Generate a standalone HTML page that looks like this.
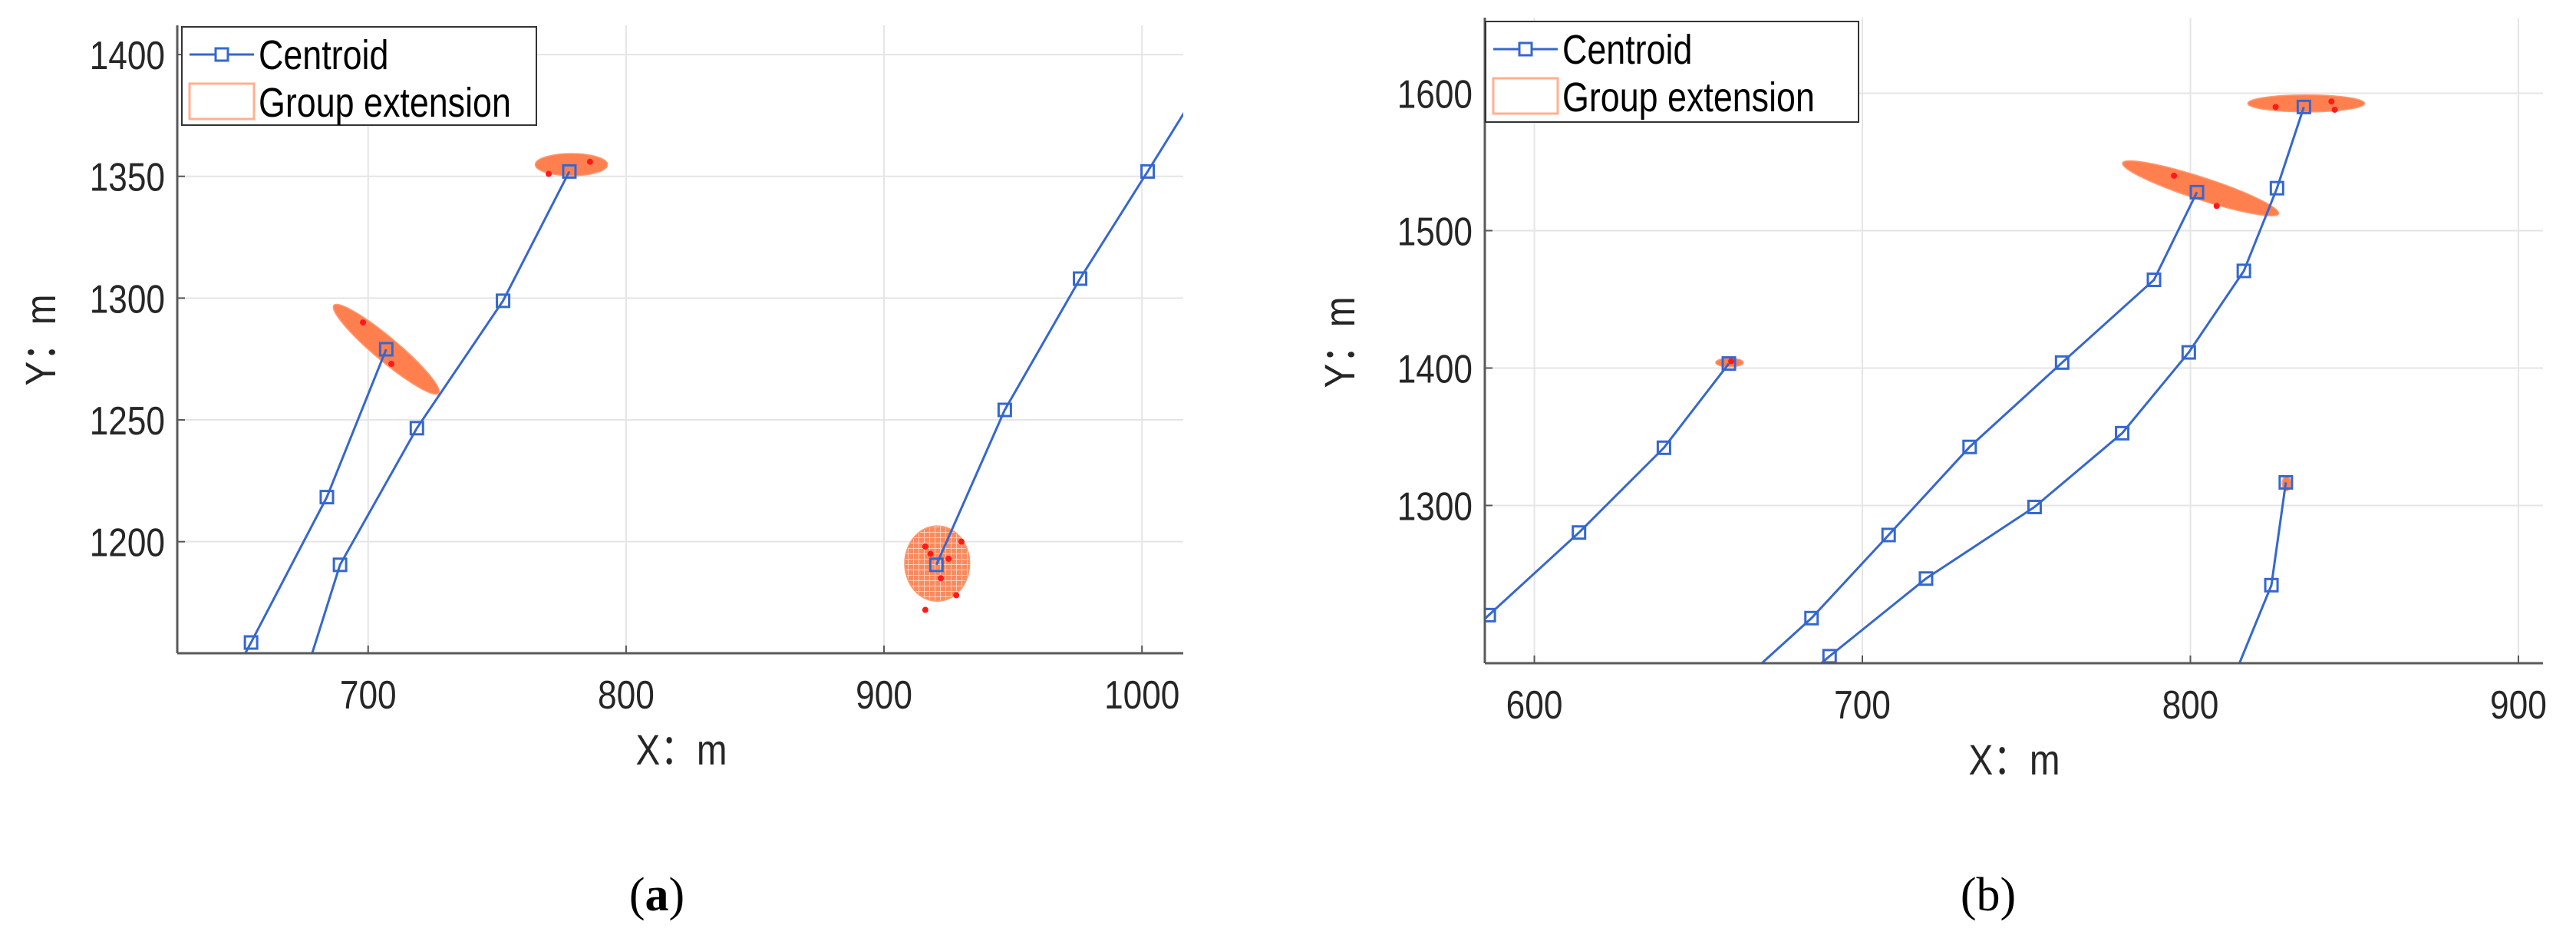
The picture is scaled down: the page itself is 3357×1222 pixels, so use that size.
<!DOCTYPE html>
<html><head><meta charset="utf-8">
<style>
html,body{margin:0;padding:0;background:#fff;}
svg{display:block;font-family:"Liberation Sans",sans-serif;}
</style></head>
<body>
<svg id="fig" width="3357" height="1222" viewBox="0 0 3357 1222" xmlns="http://www.w3.org/2000/svg">
<defs>
<pattern id="mesh" width="7" height="7" patternUnits="userSpaceOnUse">
<rect width="7" height="7" fill="#f98a5e"/>
<path d="M0 0H7M0 0V7" stroke="#fde0d2" stroke-width="1.5"/>
</pattern>
<clipPath id="clipA"><rect x="231" y="33" width="1311" height="818"/></clipPath>
<clipPath id="clipB"><rect x="1935" y="23" width="1379" height="841"/></clipPath>
</defs>
<g id="panelA"></g>
<g id="panelB"></g>
<text x="856" y="1186" font-family="Liberation Serif, serif" font-size="62" text-anchor="middle">(<tspan font-weight="bold">a</tspan>)</text>
<text x="2591" y="1186" font-family="Liberation Serif, serif" font-size="62" text-anchor="middle">(b)</text>
</svg>
<script>
// ---- Panel (a) data ----
const aXTicks = [700, 800, 900, 1000];
const aYTicks = [1200, 1250, 1300, 1350, 1400];
const aTrack1X = [625, 654.6, 684, 707];
const aTrack1Y = [1100, 1158.6, 1218.3, 1279];
const aTrack2X = [672, 689.1, 718.9, 752.3, 778];
const aTrack2Y = [1133, 1190.5, 1246.6, 1298.9, 1352];
const aTrack3X = [920.3, 946.8, 976, 1002.2, 1028];
const aTrack3Y = [1190.5, 1254.1, 1308, 1352, 1396];
const aEllX = [707, 778.8, 920.6];
const aEllY = [1279, 1354.8, 1191];
const aEllRx = [26.5, 14, 12.6];
const aEllRy = [4.6, 4.3, 14.6];
const aEllAng = [40, 0, 0];
const aDotX = [698, 709, 770, 786, 916, 918, 925, 930, 922, 916, 928];
const aDotY = [1290, 1273, 1351, 1356, 1198, 1195, 1193, 1200, 1185, 1172, 1178];

// ---- Panel (b) data ----
const bXTicks = [600, 700, 800, 900];
const bYTicks = [1300, 1400, 1500, 1600];
const bTrack1X = [560, 586.1, 613.6, 639.5, 659.3];
const bTrack1Y = [1160, 1220.2, 1280.3, 1342, 1403.3];
const bTrack2X = [660, 684.5, 708, 732.7, 760.9, 788.9, 802];
const bTrack2Y = [1165, 1218, 1278.5, 1342.6, 1404, 1464.2, 1528];
const bTrack3X = [680, 690, 719.4, 752.5, 779.2, 799.5, 816.3, 826.4, 834.6];
const bTrack3Y = [1170, 1190.3, 1246.8, 1298.9, 1352.6, 1411.4, 1470.7, 1530.9, 1590];
const bTrack4X = [812, 824.7, 829.1];
const bTrack4Y = [1168, 1242, 1316.8];
const bEllX = [659.5, 803.1, 835.3, 829.3];
const bEllY = [1404, 1530.8, 1592.6, 1316];
const bEllRx = [4.2, 25, 17.8, 1.3];
const bEllRy = [1.3, 3.4, 2.6, 2.2];
const bEllAng = [0, 18, 0, 0];
const bDotX = [660, 795, 808, 843, 844, 826];
const bDotY = [1405, 1540, 1518, 1594, 1588, 1590];

const NS = 'http://www.w3.org/2000/svg';
function mk(parent, tag, attrs) {
  const e = document.createElementNS(NS, tag);
  for (const k in attrs) e.setAttribute(k, attrs[k]);
  parent.appendChild(e);
  return e;
}
function narrow(t, f) {
  const len = t.getComputedTextLength();
  if (len > 0) {
    t.setAttribute('textLength', (len * f).toFixed(1));
    t.setAttribute('lengthAdjust', 'spacingAndGlyphs');
  }
}

function drawPanel(g, cfg) {
  const sx = v => cfg.px0 + (v - cfg.x0) * (cfg.px1 - cfg.px0) / (cfg.x1 - cfg.x0);
  const sy = v => cfg.py0 - (v - cfg.y0) * (cfg.py0 - cfg.py1) / (cfg.y1 - cfg.y0);
  const kx = (cfg.px1 - cfg.px0) / (cfg.x1 - cfg.x0);
  cfg.xTicks.forEach(t => {
    const l = mk(g, 'line', {x1: sx(t), x2: sx(t), y1: cfg.py1, y2: cfg.py0, stroke: '#e5e5e5', 'stroke-width': 2});
    
    
    const tk = mk(g, 'line', {x1: sx(t), x2: sx(t), y1: cfg.py0, y2: cfg.py0 - 10, stroke: '#555', 'stroke-width': 2});
    
    
    const tx = mk(g, 'text', {x: sx(t), y: cfg.py0 + 72, 'font-size': 52, 'text-anchor': 'middle', fill: '#262626'});
    tx.textContent = t;
    
    
    narrow(tx, 0.85);
  });
  cfg.yTicks.forEach(t => {
    const l = mk(g, 'line', {x1: cfg.px0, x2: cfg.px1, y1: sy(t), y2: sy(t), stroke: '#e5e5e5', 'stroke-width': 2});
    
    
    const tk = mk(g, 'line', {x1: cfg.px0, x2: cfg.px0 + 10, y1: sy(t), y2: sy(t), stroke: '#555', 'stroke-width': 2});
    
    
    const tx = mk(g, 'text', {x: cfg.px0 - 16, y: sy(t) + 19, 'font-size': 52, 'text-anchor': 'end', fill: '#262626'});
    tx.textContent = t;
    
    
    narrow(tx, 0.85);
  });
  const plot = mk(g, 'g', {'clip-path': cfg.clip});
  
  
  cfg.ellX.forEach((v, i) => {
    const e = mk(plot, 'ellipse', {cx: sx(v), cy: sy(cfg.ellY[i]), rx: cfg.ellRx[i] * kx, ry: cfg.ellRy[i] * kx,
      fill: (cfg.meshIdx === i ? 'url(#mesh)' : '#ff7f4f'), stroke: '#ff9a70', 'stroke-width': 1.5,
      transform: 'rotate(' + cfg.ellAng[i] + ' ' + sx(v) + ' ' + sy(cfg.ellY[i]) + ')'});
    
    
  });
  cfg.dotX.forEach((v, i) => {
    const d = mk(plot, 'circle', {cx: sx(v), cy: sy(cfg.dotY[i]), r: 4, fill: '#ff1a1a'});
    
    
  });
  cfg.tracks.forEach((tr, ti) => {
    const pts = tr[0].map((v, i) => sx(v) + ',' + sy(tr[1][i])).join(' ');
    const pl = mk(plot, 'polyline', {points: pts, fill: 'none', stroke: '#3567cf', 'stroke-width': 3});
    
    
    tr[0].forEach((v, i) => {
      const m = mk(plot, 'rect', {x: sx(v) - 8, y: sy(tr[1][i]) - 8, width: 16, height: 16, fill: 'none', stroke: '#3567cf', 'stroke-width': 3});
      
      
    });
  });
  const ax = mk(g, 'line', {x1: cfg.px0, x2: cfg.px1, y1: cfg.py0, y2: cfg.py0, stroke: '#5a5a5a', 'stroke-width': 3});
  
  
  const ay = mk(g, 'line', {x1: cfg.px0, x2: cfg.px0, y1: cfg.py1, y2: cfg.py0, stroke: '#5a5a5a', 'stroke-width': 3});
  
  
  const xl = mk(g, 'text', {x: cfg.xLabX, y: cfg.py0 + 145, 'font-size': 56, 'text-anchor': 'middle', fill: '#262626', 'font-family': 'Liberation Sans, Noto Sans CJK SC, sans-serif'});
  xl.textContent = 'X：m';
  
  
  narrow(xl, 0.85);
  const yl = mk(g, 'text', {x: 0, y: 0, 'font-size': 56, 'text-anchor': 'middle', fill: '#262626', 'font-family': 'Liberation Sans, Noto Sans CJK SC, sans-serif',
    transform: 'translate(' + cfg.yLabX + ',' + cfg.yLabY + ') rotate(-90)'});
  yl.textContent = 'Y：m';
  
  
  narrow(yl, 0.85);
  const L = cfg.leg;
  const lg = mk(g, 'g', {});
  
  
  mk(lg, 'rect', {x: L.x, y: L.y, width: L.w, height: L.h, fill: '#fff', stroke: '#333', 'stroke-width': 2});
  const ly1 = L.y + 36, ly2 = L.y + 98;
  const ls = mk(lg, 'line', {x1: L.x + 10, x2: L.x + 94, y1: ly1, y2: ly1, stroke: '#3567cf', 'stroke-width': 3});
  
  
  mk(lg, 'rect', {x: L.x + 44, y: ly1 - 8, width: 16, height: 16, fill: '#fff', stroke: '#3567cf', 'stroke-width': 3});
  const t1 = mk(lg, 'text', {x: L.x + 100, y: ly1 + 19, 'font-size': 54, fill: '#000'});
  t1.textContent = 'Centroid';
  
  
  narrow(t1, 0.83);
  const pr = mk(lg, 'rect', {x: L.x + 10, y: ly2 - 24, width: 84, height: 46, fill: '#fff', stroke: '#ffb08f', 'stroke-width': 3});
  
  
  const t2 = mk(lg, 'text', {x: L.x + 100, y: ly2 + 19, 'font-size': 54, fill: '#000'});
  t2.textContent = 'Group extension';
  
  
  narrow(t2, 0.83);
}

drawPanel(document.getElementById('panelA'), {
  x0: 626, x1: 1016, px0: 231, px1: 1542,
  y0: 1154.2, y1: 1412, py0: 851, py1: 33,
  xTicks: aXTicks, yTicks: aYTicks, clip: 'url(#clipA)',
  tracks: [[aTrack1X, aTrack1Y], [aTrack2X, aTrack2Y], [aTrack3X, aTrack3Y]],
  ellX: aEllX, ellY: aEllY, ellRx: aEllRx, ellRy: aEllRy, ellAng: aEllAng, meshIdx: 2,
  dotX: aDotX, dotY: aDotY,
  xLabX: 888, yLabX: 72, yLabY: 443,
  leg: {x: 237, y: 35, w: 462, h: 128}
});
drawPanel(document.getElementById('panelB'), {
  x0: 584.9, x1: 907.5, px0: 1935, px1: 3314,
  y0: 1185.2, y1: 1655, py0: 864, py1: 23,
  xTicks: bXTicks, yTicks: bYTicks, clip: 'url(#clipB)',
  tracks: [[bTrack1X, bTrack1Y], [bTrack2X, bTrack2Y], [bTrack3X, bTrack3Y], [bTrack4X, bTrack4Y]],
  ellX: bEllX, ellY: bEllY, ellRx: bEllRx, ellRy: bEllRy, ellAng: bEllAng, meshIdx: -1,
  dotX: bDotX, dotY: bDotY,
  xLabX: 2625, yLabX: 1765, yLabY: 446,
  leg: {x: 1936, y: 28, w: 486, h: 131}
});
</script>
</body></html>
